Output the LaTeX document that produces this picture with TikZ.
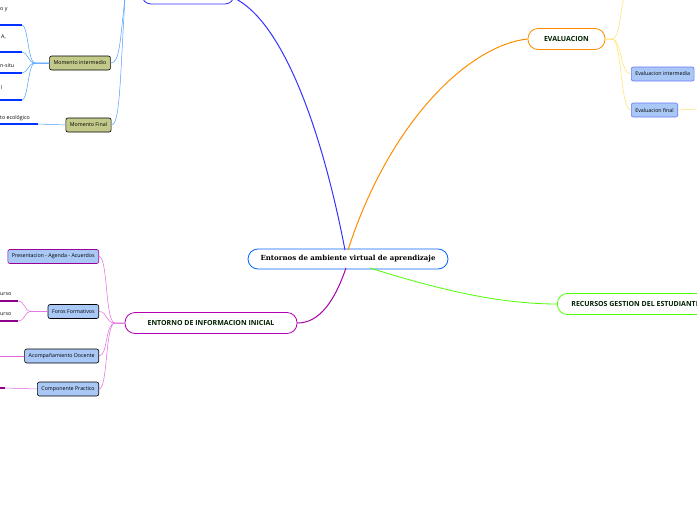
\documentclass[tikz,border=0pt]{standalone}
\usepackage{fontspec}
\setmainfont{Open Sans}
\newfontfamily\slab{DejaVu Serif}
\begin{document}
\begin{tikzpicture}[x=1pt,y=-1pt,
 sub/.style={draw=black,rounded corners=2pt,fill=#1,font=\fontsize{5.3}{6}\selectfont,inner xsep=4pt,minimum height=14pt,line width=0.6pt},
 main/.style={draw=#1,rounded corners=10pt,fill=white,font=\fontsize{7}{8}\selectfont\bfseries\color{black!70!green!40!black},line width=0.8pt,minimum height=21pt,inner xsep=10pt},
 lab/.style={font=\fontsize{5.3}{6}\selectfont,anchor=west,inner sep=0pt},
 bl/.style={draw=blue!55!cyan!70!white,line width=0.5pt},
 thick blue/.style={draw=blue!80!cyan,line width=1.2pt},
 vi/.style={draw=violet!40!magenta!60!white,line width=0.5pt}]
\useasboundingbox (0,0) rectangle (697,520);
\definecolor{olive}{HTML}{C3C98A}
\definecolor{lb}{HTML}{A9C8F5}
\node[draw=blue!60!cyan,rounded corners=10pt,minimum height=20pt,minimum width=200pt,font=\slab\fontsize{7}{8}\selectfont\bfseries,line width=0.8pt] (c) at (348,259) {Entornos de ambiente virtual de aprendizaje};
\node[draw=blue!80,rounded corners=9pt,minimum width=92pt,minimum height=20pt,line width=0.8pt] (top) at (188,-6) {};
\draw[blue!80,line width=1pt] (345,250) .. controls (320,120) and (280,20) .. (234,-2);
\node[sub=olive] (mi) at (80,63) {Momento intermedio};
\node[sub=olive] (mf) at (88.5,125) {Momento Final};
\draw[bl] (125,-2) .. controls (120,40) and (120,63) .. (mi.east);
\draw[bl] (125,-2) .. controls (120,80) and (120,125) .. (mf.east);
\foreach \y in {25,52,73,100}{
 \draw[bl] (mi.west) -- (35,63) .. controls (28,63) and (28,\y) .. (22,\y);
 \draw[thick blue] (0,\y) -- (22,\y);}
\node[lab] at (0,10) {o y};
\node[lab] at (1,37) {A,};
\node[lab] at (0,66) {n-situ};
\node[lab] at (1,87) {l};
\draw[thick blue] (0,124) -- (38,124);
\draw[bl] (38,124) -- (mf.west);
\node[lab] at (0,118) {to ecológico};
% evaluacion
\node[main=orange!90!yellow,minimum width=77pt] (ev) at (566.5,39) {EVALUACION};
\draw[orange!90!yellow,line width=1pt] (348,250) .. controls (390,120) and (470,45) .. (ev.west);
\node[sub=lb,draw=lb!60!blue,anchor=west] (ei) at (631,74) {Evaluacion intermedia};
\node[sub=lb,draw=lb!60!blue,anchor=west] (ef) at (631,110) {Evaluacion final};
\draw[orange!40!yellow!60!white,line width=0.5pt] (ev.east) -- (612,39) .. controls (620,39) and (620,10) .. (624,-2);
\draw[orange!40!yellow!60!white,line width=0.5pt] (ev.east) -- (612,39) .. controls (622,39) and (620,74) .. (ei.west);
\draw[orange!40!yellow!60!white,line width=0.5pt] (ev.east) -- (612,39) .. controls (622,39) and (620,110) .. (ef.west);
\draw[orange!40!yellow!60!white,line width=0.5pt] (ef.east) -- (697,109);
% recursos
\node[main=green!70!yellow,anchor=west,inner xsep=14pt] (rg) at (557,304) {RECURSOS GESTION DEL ESTUDIANTE};
\draw[green!70!yellow,line width=0.8pt] (370,268) .. controls (440,290) and (500,304) .. (rg.west);
% entorno
\node[main=violet!60!magenta,minimum width=172pt] (en) at (211,323) {ENTORNO DE INFORMACION INICIAL};
\draw[violet!70!magenta,line width=1pt] (346,268) .. controls (335,300) and (320,323) .. (en.east);
\node[sub=lb,anchor=east,draw=violet!80!magenta] (pa) at (99,256.5) {Presentacion - Agenda - Acuerdos};
\node[sub=lb,anchor=east] (ff) at (99,311.5) {Foros Formativos};
\node[sub=lb,anchor=east] (ad) at (99,356) {Acompañamiento Docente};
\node[sub=lb,anchor=east] (cp) at (99,389) {Componente Practico};
\foreach \n in {pa,ff,ad,cp}
 \draw[vi] (en.west) -- (115,323) .. controls (105,323) and (108,0|-\n.east) .. (\n.east);
\foreach \y in {301,321}{
 \draw[vi] (ff.west) -- (30,311.5) .. controls (25,311.5) and (25,\y) .. (18,\y);
 \draw[violet!90!magenta,line width=1.2pt] (0,\y) -- (18,\y);}
\node[lab] at (0,294) {urso};
\node[lab] at (0,314) {urso};
\draw[vi] (ad.west) -- (0,356);
\draw[violet!90!magenta,line width=1.2pt] (0,388) -- (5,388);
\draw[vi] (5,388) -- (cp.west);
\end{tikzpicture}
\end{document}
